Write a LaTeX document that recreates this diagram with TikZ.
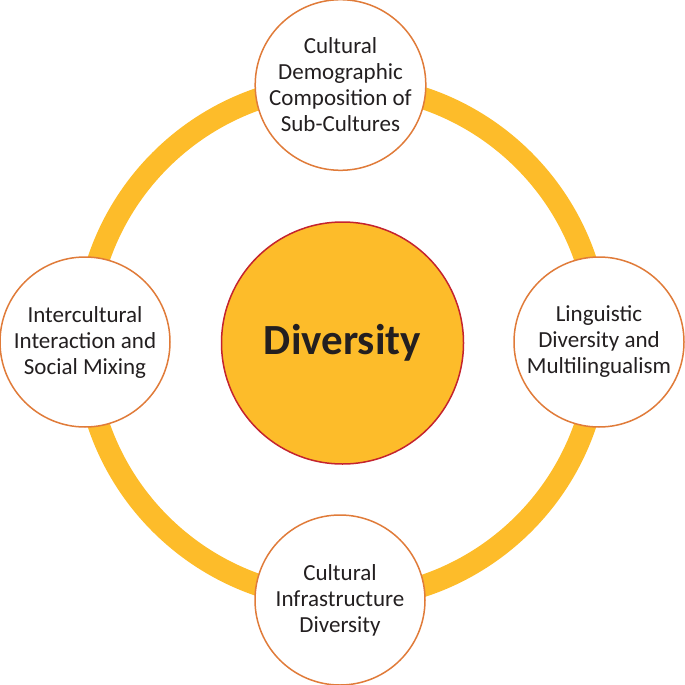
\documentclass[tikz,border=0pt]{standalone}
\usepackage{fontspec}
\setmainfont{Carlito}
\definecolor{ringyellow}{HTML}{FDBC2A}
\definecolor{outerorange}{HTML}{E07B39}
\definecolor{centerred}{HTML}{C4232E}
\definecolor{txt}{HTML}{231F20}
\begin{document}
\begin{tikzpicture}[x=1pt,y=-1pt,
  topic/.style={circle,draw=outerorange,line width=1.5pt,fill=white,minimum size=170pt,inner sep=0pt,align=center,text=txt,font=\fontsize{23}{26}\selectfont},
  hub/.style={circle,draw=centerred,line width=1.5pt,fill=ringyellow,minimum size=242pt,inner sep=0pt,text=txt,font=\fontsize{43}{50}\selectfont\bfseries},
  ring/.style={draw=ringyellow,line width=22pt}]
\useasboundingbox (0,0) rectangle (685,685);
\coordinate (o) at (342,342);
\draw[ring] (o) circle (257);
\node[hub] (c) at (342.5,343) {Diversity};
\node[topic] (t) at (340.5,85) {Cultural\\Demographic\\Composition of\\Sub-Cultures};
\node[topic] (l) at (85,342) {Intercultural\\Interaction and\\Social Mixing};
\node[topic] (r) at (599,342) {Linguistic\\Diversity and\\Multilingualism};
\node[topic] (b) at (340,600) {Cultural\\Infrastructure\\Diversity};
\end{tikzpicture}
\end{document}
